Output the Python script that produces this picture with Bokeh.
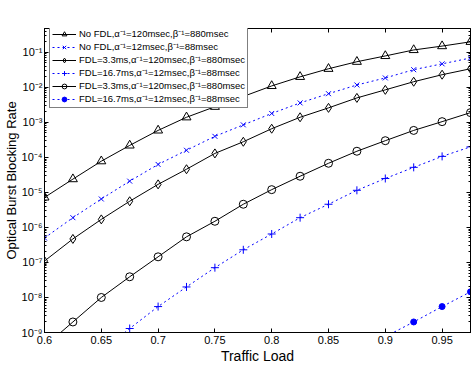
import math
from bokeh.plotting import figure
from bokeh.models import (Legend, LegendItem, FixedTicker, LogTicker, LinearAxis, LogAxis,
                          CustomJSTickFormatter, Range1d)
from bokeh.embed import file_html
from bokeh.resources import INLINE

nan = float("nan")
load = [0.6, 0.625, 0.65, 0.675, 0.7, 0.725, 0.75, 0.775, 0.8, 0.825, 0.85, 0.875, 0.9, 0.925, 0.95, 0.975]

nofdl_120 = [7.2e-6, 2.4e-5, 7.8e-5, 2.2e-4, 5.9e-4, 1.4e-3, 2.8e-3, 5.5e-3, 1.1e-2, 2.0e-2, 3.4e-2, 5.4e-2, 7.9e-2, 0.117, 0.151, 0.20]
nofdl_12 = [5.0e-7, 1.9e-6, 6.5e-6, 2.1e-5, 6.3e-5, 1.6e-4, 4.0e-4, 8.5e-4, 1.8e-3, 3.6e-3, 6.6e-3, 1.17e-2, 1.86e-2, 3.2e-2, 4.7e-2, 6.9e-2]
fdl33_120 = [1.1e-7, 4.7e-7, 1.7e-6, 5.6e-6, 1.7e-5, 4.6e-5, 1.3e-4, 2.8e-4, 6.6e-4, 1.4e-3, 2.6e-3, 5.0e-3, 8.5e-3, 1.45e-2, 2.3e-2, 3.4e-2]
fdl167_12 = [nan, nan, 2.8e-10, 1.3e-9, 5.5e-9, 2.0e-8, 7.1e-8, 2.3e-7, 6.5e-7, 1.9e-6, 4.6e-6, 1.15e-5, 2.5e-5, 5.2e-5, 1.07e-4, 2.0e-4]
fdl33_12 = [4.0e-10, 2.0e-9, 1.0e-8, 3.9e-8, 1.45e-7, 5.4e-7, 1.5e-6, 4.6e-6, 1.2e-5, 2.9e-5, 6.8e-5, 1.5e-4, 3.0e-4, 5.9e-4, 1.05e-3, 1.9e-3]
fdl167_12b = [nan, nan, nan, nan, nan, nan, nan, nan, nan, nan, nan, nan, 7.6e-10, 2.0e-9, 5.5e-9, 1.45e-8]

labels = [
    "No FDL,\u03b1\u207b\u00b9=120msec,\u03b2\u207b\u00b9=880msec",
    "No FDL,\u03b1\u207b\u00b9=12msec,\u03b2\u207b\u00b9=88msec",
    "FDL=3.3ms,\u03b1\u207b\u00b9=120msec,\u03b2\u207b\u00b9=880msec",
    "FDL=16.7ms,\u03b1\u207b\u00b9=12msec,\u03b2\u207b\u00b9=88msec",
    "FDL=3.3ms,\u03b1\u207b\u00b9=120msec,\u03b2\u207b\u00b9=880msec",
    "FDL=16.7ms,\u03b1\u207b\u00b9=12msec,\u03b2\u207b\u00b9=88msec",
]
x_ticks = [0.6, 0.65, 0.7, 0.75, 0.8, 0.85, 0.9, 0.95]
x_title = "Traffic Load"
y_title = "Optical Burst Blocking Rate"

FONT = "Liberation Sans"
BLUE = "#0000ff"
Y_MIN, Y_MAX = 1e-9, 0.48

p = figure(width=474, height=366, y_axis_type="log", output_backend="svg", toolbar_location=None,
           x_range=Range1d(0.6, 0.975), y_range=Range1d(Y_MIN, Y_MAX),
           min_border_left=43, min_border_right=4, min_border_top=28, min_border_bottom=32)
p.outline_line_color = "black"
p.xgrid.visible = False
p.ygrid.visible = False

series = [
    (nofdl_120, "black", "solid", "triangle", 9, False),
    (nofdl_12, BLUE, "2 3", "x", 7, False),
    (fdl33_120, "black", "solid", "diamond", 9, False),
    (fdl167_12, BLUE, "2 3", "cross", 8, False),
    (fdl33_12, "black", "solid", "circle", 8, False),
    (fdl167_12b, BLUE, "2 3", "circle", 6, True),
]
items = []
for (ys, col, dash, mk, sz, filled), lab in zip(series, labels):
    r1 = p.line(load, ys, line_color=col, line_dash=dash, line_width=1)
    r2 = p.scatter(load, ys, marker=mk, size=sz, line_color=col,
                   fill_color=col if filled else None, line_width=1)
    items.append(LegendItem(label=lab, renderers=[r1, r2]))

legend = Legend(items=items, location=(5, 224), label_text_font=FONT, label_text_font_size="9.5px",
                label_text_line_height=1.0,
                label_height=12, glyph_height=12, glyph_width=24, spacing=0, padding=2, margin=0,
                label_standoff=3, border_line_color="black", background_fill_alpha=1,
                label_text_color="black")
p.add_layout(legend, "center")

sup = "const m={'-':'\u207b','0':'\u2070','1':'\u00b9','2':'\u00b2','3':'\u00b3','4':'\u2074','5':'\u2075','6':'\u2076','7':'\u2077','8':'\u2078','9':'\u2079'};"
ylab = CustomJSTickFormatter(code=sup + "const e=Math.round(Math.log10(tick));return '10'+String(e).split('').map(c=>m[c]).join('');")

for ax in [p.xaxis[0], p.yaxis[0]]:
    ax.major_tick_in = 4
    ax.major_tick_out = 0
    ax.minor_tick_in = 2
    ax.minor_tick_out = 0
    ax.major_tick_line_color = "black"
    ax.minor_tick_line_color = "black"
    ax.major_label_text_font = FONT
    ax.major_label_text_font_size = "11px"
    ax.major_label_text_color = "black"
    ax.axis_label_text_font = FONT
    ax.axis_label_text_font_size = "14px"
    ax.axis_label_text_font_style = "normal"
    ax.axis_label_text_color = "black"
    ax.axis_line_color = "black"

p.xaxis[0].ticker = FixedTicker(ticks=x_ticks)
p.xaxis[0].axis_label = x_title
p.xaxis[0].major_label_standoff = 3
p.xaxis[0].axis_label_standoff = 1
p.yaxis[0].ticker = LogTicker(desired_num_ticks=9, num_minor_ticks=10)
p.yaxis[0].formatter = ylab
p.yaxis[0].axis_label = y_title
p.yaxis[0].axis_label_text_font_size = "13px"
p.yaxis[0].major_label_standoff = 2
p.yaxis[0].axis_label_standoff = 0

blank = CustomJSTickFormatter(code="return '';")
top = LinearAxis(ticker=FixedTicker(ticks=x_ticks), formatter=blank, major_tick_in=4, major_tick_out=0,
                 minor_tick_in=0, minor_tick_out=0, major_label_standoff=0, major_tick_line_color="black")
right = LogAxis(ticker=LogTicker(desired_num_ticks=9, num_minor_ticks=10), formatter=blank,
                major_tick_in=4, major_tick_out=0, minor_tick_in=2, minor_tick_out=0, major_label_standoff=0,
                major_tick_line_color="black", minor_tick_line_color="black")
p.add_layout(top, "above")
p.add_layout(right, "right")

open("out.html", "w").write(file_html(p, INLINE))
